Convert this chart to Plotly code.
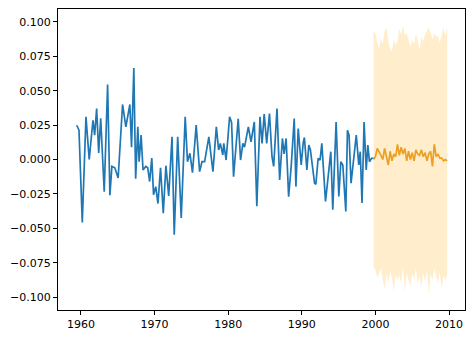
import plotly.graph_objects as go

# observed series (year, value)
hist_years = [1959.42, 1959.73, 1960.18, 1960.68, 1961.12, 1961.63, 1961.86, 1962.13, 1962.41, 1962.68,
              1963.16, 1963.62, 1963.93, 1964.20, 1964.60, 1965.05, 1965.65, 1966.10, 1966.64, 1966.87,
              1967.18, 1967.43, 1967.72, 1967.90, 1968.17, 1968.43, 1968.80, 1969.07, 1969.33, 1969.62,
              1969.86, 1970.16, 1970.46, 1970.81, 1971.18, 1971.54, 1971.92, 1972.37, 1972.67, 1973.14,
              1973.62, 1974.16, 1974.47, 1974.80, 1975.15, 1975.65, 1976.12, 1976.44, 1976.80, 1977.37,
              1977.93, 1978.39, 1978.70, 1978.93, 1979.27, 1979.40, 1979.72, 1980.19, 1980.46, 1980.73,
              1981.36, 1981.68, 1981.99, 1982.22, 1982.74, 1983.10, 1983.55, 1983.89, 1984.32, 1984.60,
              1984.89, 1985.23, 1985.61, 1985.95, 1986.18, 1986.63, 1986.99, 1987.37, 1987.60, 1987.87,
              1988.21, 1988.56, 1988.97, 1989.20, 1989.51, 1989.92, 1990.19, 1990.35, 1990.69, 1990.95,
              1991.17, 1991.48, 1991.73, 1991.91, 1992.22, 1992.48, 1992.72, 1993.22, 1993.54, 1993.94,
              1994.21, 1994.66, 1995.03, 1995.30, 1995.57, 1995.98, 1996.20, 1996.42, 1996.69, 1997.02,
              1997.40, 1997.74, 1997.94, 1998.18, 1998.46, 1998.75, 1998.97, 1999.19, 1999.47, 1999.77]
hist_values = [0.0249, 0.0213, -0.0457, 0.0310, 0.0000, 0.0285, 0.0177, 0.0370, 0.0047, 0.0300,
               -0.0235, 0.0545, -0.0260, -0.0050, -0.0060, -0.0134, 0.0400, 0.0237, 0.0400, 0.0090,
               0.0665, -0.0140, 0.0237, -0.0016, 0.0177, -0.0076, -0.0050, -0.0060, -0.0160, 0.0010,
               -0.0256, -0.0197, -0.0320, -0.0060, -0.0390, -0.0045, -0.0265, 0.0165, -0.0546, 0.0165,
               -0.0425, 0.0310, -0.0016, 0.0045, -0.0095, 0.0250, -0.0088, -0.0016, -0.0016, 0.0165,
               -0.0088, 0.0237, 0.0069, 0.0117, 0.0033, 0.0117, -0.0004, 0.0310, 0.0270, -0.0125,
               0.0296, -0.0004, 0.0117, 0.0090, 0.0237, 0.0129, 0.0273, -0.0340, 0.0310, 0.0117,
               0.0330, 0.0117, 0.0334, 0.0020, -0.0050, 0.0370, -0.0148, 0.0153, 0.0040, 0.0153,
               -0.0270, -0.0050, 0.0298, -0.0197, 0.0225, -0.0040, 0.0120, 0.0160, -0.0076, 0.0105,
               0.0070, -0.0076, -0.0172, -0.0180, 0.0009, -0.0004, 0.0117, -0.0305, -0.0125, 0.0057,
               -0.0365, 0.0273, -0.0269, -0.0016, -0.0040, -0.0377, 0.0213, 0.0177, -0.0172, -0.0004,
               0.0177, -0.0040, 0.0057, -0.0316, 0.0273, -0.0076, 0.0105, -0.0016, 0.0009, 0.0009]

# forecast (quarterly)
fc_years = [1999.75 + 0.25 * i for i in range(41)]
fc_values = [0.000, 0.002, 0.008, 0.006, 0.003, 0.000, 0.008, 0.002, -0.004, 0.006,
             -0.001, 0.004, 0.002, 0.011, 0.003, 0.009, 0.004, 0.008, -0.001, 0.006,
             0.000, 0.005, -0.001, 0.007, 0.004, 0.003, 0.007, 0.002, 0.005, -0.001,
             0.004, 0.006, -0.005, 0.011, 0.002, 0.004, 0.001, 0.001, -0.001, 0.000, -0.001]
fc_upper = [0.093, 0.092, 0.085, 0.080, 0.088, 0.084, 0.093, 0.096, 0.086, 0.080,
            0.079, 0.087, 0.083, 0.086, 0.095, 0.091, 0.097, 0.090, 0.092, 0.086,
            0.082, 0.087, 0.084, 0.092, 0.085, 0.080, 0.089, 0.086, 0.091, 0.094,
            0.096, 0.092, 0.087, 0.092, 0.089, 0.090, 0.085, 0.090, 0.096, 0.090, 0.096]
fc_lower = [-0.078, -0.080, -0.086, -0.083, -0.079, -0.087, -0.094, -0.083, -0.090, -0.081,
            -0.086, -0.096, -0.083, -0.088, -0.084, -0.090, -0.078, -0.096, -0.082, -0.088,
            -0.092, -0.083, -0.087, -0.079, -0.090, -0.085, -0.093, -0.082, -0.089, -0.080,
            -0.098, -0.083, -0.088, -0.079, -0.085, -0.090, -0.082, -0.094, -0.084, -0.088, -0.083]

x_ticks = [1960, 1970, 1980, 1990, 2000, 2010]
y_ticks = [-0.100, -0.075, -0.050, -0.025, 0.000, 0.025, 0.050, 0.075, 0.100]

fig = go.Figure()
fig.add_trace(go.Scatter(x=fc_years, y=fc_upper, mode="lines", line=dict(width=0),
                         showlegend=False, hoverinfo="skip"))
fig.add_trace(go.Scatter(x=fc_years, y=fc_lower, mode="lines", line=dict(width=0),
                         fill="tonexty", fillcolor="rgba(255,165,0,0.2)",
                         showlegend=False, hoverinfo="skip"))
fig.add_trace(go.Scatter(x=hist_years, y=hist_values, mode="lines",
                         line=dict(color="#1f77b4", width=1.7), showlegend=False))
fig.add_trace(go.Scatter(x=fc_years, y=fc_values, mode="lines",
                         line=dict(color="#EBA023", width=1.7), showlegend=False))

axis_common = dict(showline=True, mirror=True, linecolor="black", linewidth=1,
                   ticks="outside", ticklen=4, tickcolor="black", tickwidth=1,
                   showgrid=False, zeroline=False,
                   tickfont=dict(family="DejaVu Sans", size=11, color="black"))
fig.update_xaxes(range=[1956.88, 2012.17], tickvals=x_ticks,
                 ticktext=[str(v) for v in x_ticks], **axis_common)
fig.update_yaxes(range=[-0.1094, 0.1094], tickvals=y_ticks, tickformat=".3f", **axis_common)

fig.update_layout(width=474, height=339, margin=dict(l=58, r=8, t=8, b=28),
                  paper_bgcolor="white", plot_bgcolor="white",
                  font=dict(family="DejaVu Sans", size=11, color="black"))
fig.write_html("out.html")
